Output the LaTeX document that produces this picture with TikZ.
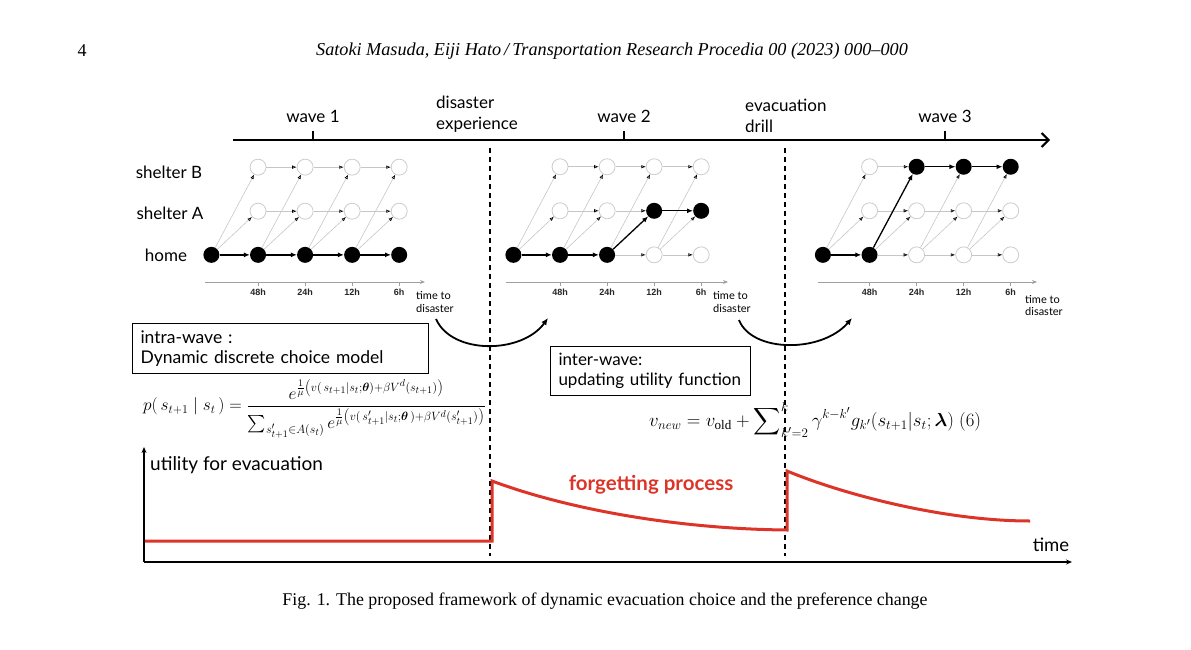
\documentclass[tikz,border=0pt]{standalone}
\usepackage{amsmath}
\usepackage{amssymb}
\usepackage{fontspec}
\setmainfont{Liberation Serif}
\newfontfamily\figfont{Lato}
\newfontfamily\tickfont{Liberation Sans}
\usepackage{tikz}
\usetikzlibrary{matrix}
\usetikzlibrary{arrows.meta}
\definecolor{fgred}{RGB}{221,52,42}

\tikzset{
  dot/.style={circle, minimum size=16pt, inner sep=0pt, font=\tiny},
  blk/.style={fill=black},
  wht/.style={draw=gray!40, line width=0.8pt, fill=white},
  gedge/.style={color=gray!45, line width=0.6pt, -{Latex[length=4.5pt,width=3.5pt,color=black]}},
  bedge/.style={color=black, line width=1.3pt, -{Latex[length=6pt,width=5pt]}},
  lab/.style={font=\figfont\fontsize{17}{21}\selectfont, inner sep=0pt},
  ttd/.style={font=\figfont\fontsize{11}{12.5}\selectfont, inner sep=0pt, align=left, anchor=west},
  ticklab/.style={font=\tickfont\bfseries\fontsize{9}{10}\selectfont, inner sep=0pt, text=black!85},
  taxis/.style={draw=gray!75, line width=0.9pt, -{Stealth[length=5pt,width=4pt]}},
  textbox/.style={draw, line width=1pt, inner xsep=8pt, inner ysep=0pt, align=left,
    anchor=north west, font=\figfont\fontsize{17}{20}\selectfont},
  sep/.style={line width=1.2pt, dash pattern=on 5pt off 4pt},
  fgline/.style={fgred, line width=3pt},
}

\begin{document}
\begin{tikzpicture}[x=1pt, y=-1pt]
  \useasboundingbox (0,0) rectangle (1191,650);

  % page head and caption
  \node[font=\fontsize{18}{20}\selectfont] (pageno) at (82,51) {4};
  \node[font=\itshape\fontsize{18.2}{20}\selectfont] (head) at (612,51)
    {Satoki Masuda, Eiji Hato\,/\,Transportation Research Procedia 00 (2023) 000--000};
  \node[font=\fontsize{17.9}{20}\selectfont] (caption) at (605,601)
    {Fig. 1. The proposed framework of dynamic evacuation choice and the preference change};

  % time line of the waves
  \coordinate (tl-s) at (233,140);
  \coordinate (tl-e) at (1050,140);
  \draw[line width=2pt, -{Straight Barb[length=7pt,width=14pt]}] (tl-s) -- (tl-e);
  \node[lab] (wave1) at (313,116) {wave 1};
  \node[lab] (wave2) at (624,116) {wave 2};
  \node[lab] (wave3) at (945,116) {wave 3};
  \foreach \w in {wave1,wave2,wave3}
    \draw[line width=2pt] (\w |- tl-s) -- ++(0,-9);
  \node[lab, align=left, anchor=west] (disaster) at (436,114) {disaster\\experience};
  \node[lab, align=left, anchor=west] (drill) at (745,116) {evacuation\\drill};

  % separators
  \coordinate (d1-t) at (490,148);
  \coordinate (d1-b) at (490,556);
  \coordinate (d2-t) at (785,148);
  \coordinate (d2-b) at (785,556);
  \draw[sep] (d1-t) -- (d1-b);
  \draw[sep] (d2-t) -- (d2-b);

  % states
  \node[lab] (shB) at (169,172) {shelter B};
  \node[lab] (shA) at (170,213) {shelter A};
  \node[lab] (home) at (166,255) {home};

  \matrix (w1) [matrix of nodes, nodes={dot}, column sep=30.25pt, row sep=27.25pt] at (305.5,210.8)
  {
            & |[wht]| & |[wht]| & |[wht]| & |[wht]| \\ % shelter B
            & |[wht]| & |[wht]| & |[wht]| & |[wht]| \\ % shelter A
    |[blk]| & |[blk]| & |[blk]| & |[blk]| & |[blk]| \\ % home
  };
  \matrix (w2) [matrix of nodes, nodes={dot}, column sep=30.25pt, row sep=27.25pt] at (607.5,210.8)
  {
            & |[wht]| & |[wht]| & |[wht]| & |[wht]| \\ % shelter B
            & |[wht]| & |[wht]| & |[blk]| & |[blk]| \\ % shelter A
    |[blk]| & |[blk]| & |[blk]| & |[wht]| & |[wht]| \\ % home
  };
  \matrix (w3) [matrix of nodes, nodes={dot}, column sep=30.25pt, row sep=27.25pt] at (917,210.8)
  {
            & |[wht]| & |[blk]| & |[blk]| & |[blk]| \\ % shelter B
            & |[wht]| & |[wht]| & |[wht]| & |[wht]| \\ % shelter A
    |[blk]| & |[blk]| & |[wht]| & |[wht]| & |[wht]| \\ % home
  };

  % wave 1
  \path[gedge]
    (w1-3-1) edge (w1-2-2) edge (w1-1-2)
    (w1-3-2) edge (w1-2-3) edge (w1-1-3)
    (w1-3-3) edge (w1-2-4) edge (w1-1-4)
    (w1-3-4) edge (w1-2-5) edge (w1-1-5)
    (w1-2-2) edge (w1-2-3) (w1-2-3) edge (w1-2-4) (w1-2-4) edge (w1-2-5)
    (w1-1-2) edge (w1-1-3) (w1-1-3) edge (w1-1-4) (w1-1-4) edge (w1-1-5);
  \path[bedge]
    (w1-3-1) edge (w1-3-2) (w1-3-2) edge (w1-3-3)
    (w1-3-3) edge (w1-3-4) (w1-3-4) edge (w1-3-5);

  % wave 2
  \path[gedge]
    (w2-3-1) edge (w2-2-2) edge (w2-1-2)
    (w2-3-2) edge (w2-2-3) edge (w2-1-3)
    (w2-3-3) edge (w2-1-4) edge (w2-3-4)
    (w2-3-4) edge (w2-2-5) edge (w2-1-5) edge (w2-3-5)
    (w2-2-2) edge (w2-2-3) (w2-2-3) edge (w2-2-4)
    (w2-1-2) edge (w2-1-3) (w2-1-3) edge (w2-1-4) (w2-1-4) edge (w2-1-5);
  \path[bedge]
    (w2-3-1) edge (w2-3-2) (w2-3-2) edge (w2-3-3)
    (w2-3-3) edge (w2-2-4) (w2-2-4) edge (w2-2-5);

  % wave 3
  \path[gedge]
    (w3-3-1) edge (w3-2-2) edge (w3-1-2)
    (w3-3-2) edge (w3-2-3) edge (w3-3-3)
    (w3-3-3) edge (w3-2-4) edge (w3-1-4) edge (w3-3-4)
    (w3-3-4) edge (w3-2-5) edge (w3-1-5) edge (w3-3-5)
    (w3-2-2) edge (w3-2-3) (w3-2-3) edge (w3-2-4) (w3-2-4) edge (w3-2-5)
    (w3-1-2) edge (w3-1-3);
  \path[bedge]
    (w3-3-1) edge (w3-3-2) (w3-3-2) edge (w3-1-3)
    (w3-1-3) edge (w3-1-4) (w3-1-4) edge (w3-1-5);

  % time to disaster axes
  \foreach \w/\s/\e in {1/205/425, 2/506/728, 3/818/1037} {
    \coordinate (ax\w-s) at (\s,282);
    \coordinate (ax\w-e) at (\e,282);
    \draw[taxis] (ax\w-s) -- (ax\w-e);
    \foreach \c/\t in {2/48h, 3/24h, 4/12h, 5/6h}
      \draw[gray!75, line width=0.8pt] (w\w-3-\c |- ax\w-s) -- ++(0,4)
        node[below=3pt, ticklab] {\t};
  }
  \node[ttd] (ttd1) at (416,302) {time to\\disaster};
  \node[ttd] (ttd2) at (713,302) {time to\\disaster};
  \node[ttd] (ttd3) at (1025,305.5) {time to\\disaster};

  % from one wave to the next
  \coordinate (c1-s) at (436,319);
  \coordinate (c1-e) at (548,318);
  \coordinate (c2-s) at (739,320);
  \coordinate (c2-e) at (852,318);
  \draw[line width=1.8pt, -{Latex[length=7pt,width=6pt]}]
    (c1-s) .. controls (452,355) and (522,354) .. (c1-e);
  \draw[line width=1.8pt, -{Latex[length=7pt,width=6pt]}]
    (c2-s) .. controls (752,353) and (822,353) .. (c2-e);

  % models
  \node[textbox, font=\figfont\fontsize{17.5}{20}\selectfont, text width=280pt, minimum height=50pt] (intra) at (132,323)
    {intra-wave :\\Dynamic discrete choice model};
  \node[textbox, text width=184pt, minimum height=49pt] (inter) at (550,346)
    {inter-wave:\\updating utility function};

  \node[anchor=west, inner sep=0pt, font=\fontsize{17.28}{20}\selectfont] (pform) at (143,409)
    {$p(\,s_{t+1}\mid s_t\,)=\dfrac{e^{\frac{1}{\mu}\left(v(\,s_{t+1}|s_t;\boldsymbol{\theta})+\beta V^d(s_{t+1})\right)}}
      {\sum_{s'_{t+1}\in A(s_t)}e^{\frac{1}{\mu}\left(v(\,s'_{t+1}|s_t;\boldsymbol{\theta}\,)+\beta V^d(s'_{t+1})\right)}}$};
  \node[anchor=west, inner sep=0pt, font=\fontsize{17.28}{20}\selectfont] (vform) at (649,420)
    {\scalebox{1.09}{$v_{new}=v_{\mathrm{old}}+\displaystyle\sum\nolimits_{k'=2}^{k}\gamma^{k-k'}g_{k'}(s_{t+1}|s_t;\boldsymbol{\lambda})\;(6)$}};

  % utility for evacuation
  \coordinate (o) at (144,562);
  \coordinate (ytop) at (144,447);
  \coordinate (xend) at (1072,562);
  \draw[line width=1.1pt, -{Stealth[length=6pt,width=5pt]}] (o) -- (ytop);
  \draw[line width=1.1pt, -{Stealth[length=6pt,width=5pt]}] (o) -- (xend);
  \node[lab, font=\figfont\fontsize{19}{22}\selectfont, anchor=west] (util) at (150,465) {utility for evacuation};
  \node[lab, font=\figfont\fontsize{18.5}{21}\selectfont] (time) at (1051,545) {time};

  \coordinate (u0) at (145,541);
  \coordinate (u1) at (492,541);
  \coordinate (u2) at (492,481);
  \coordinate (u3) at (787,530);
  \coordinate (u4) at (787,471);
  \coordinate (u5) at (1030,521);
  \draw[fgline] (u0) -- (u1) -- (u2) .. controls (570,510) and (680,529) .. (u3)
    -- (u4) .. controls (845,495) and (945,521) .. (u5);
  \node[font=\figfont\bfseries\fontsize{20.5}{23}\selectfont, text=fgred] (forget) at (651,485) {forgetting process};
\end{tikzpicture}
\end{document}
